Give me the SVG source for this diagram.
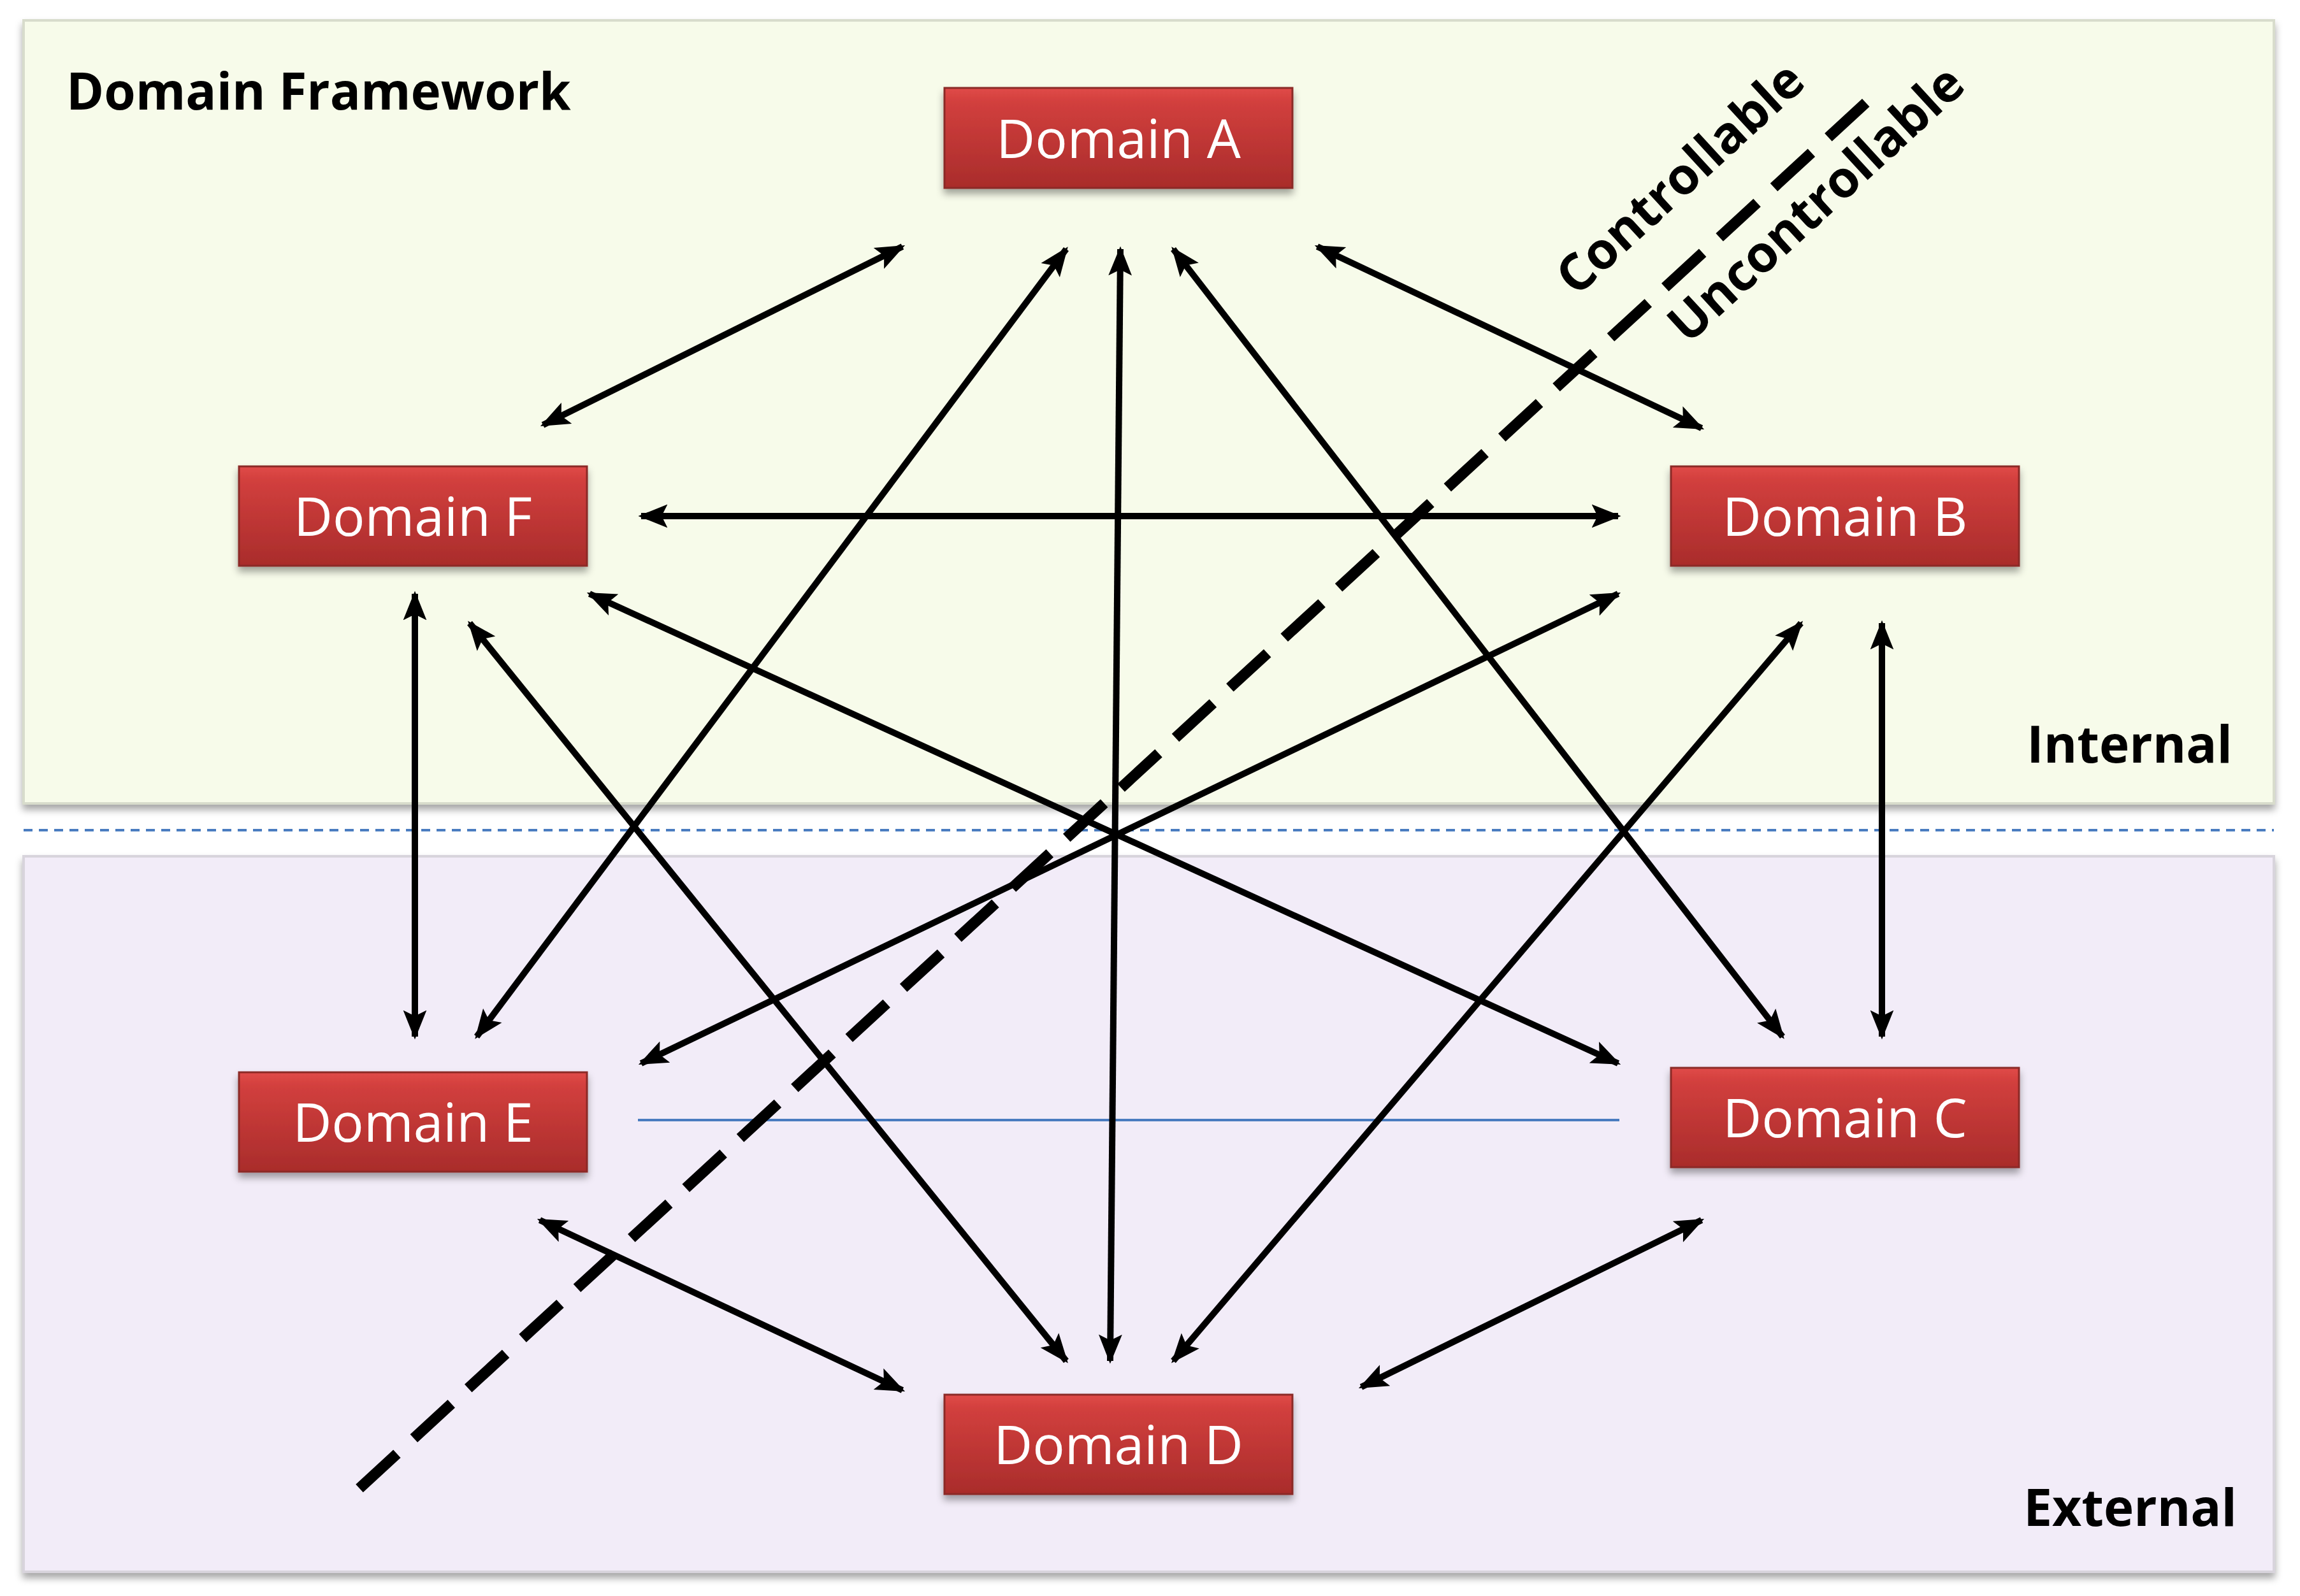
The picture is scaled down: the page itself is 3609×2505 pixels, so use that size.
<svg xmlns="http://www.w3.org/2000/svg" width="3609" height="2505" viewBox="0 0 3609 2505">
<defs>
<linearGradient id="red" x1="0" y1="0" x2="0" y2="1"><stop offset="0" stop-color="#e04a48"/><stop offset="0.15" stop-color="#d13f3d"/><stop offset="1" stop-color="#a92c2b"/></linearGradient>
<filter id="sh" x="-10%" y="-10%" width="120%" height="130%"><feDropShadow dx="0" dy="8" stdDeviation="6" flood-color="#000" flood-opacity="0.35"/></filter>
<marker id="ah" viewBox="0 0 10 8" refX="9" refY="4" markerWidth="4.6" markerHeight="3.8" orient="auto-start-reverse" markerUnits="strokeWidth"><path d="M0,0 L10,4 L0,8 L2,4 z" fill="#000"/></marker>
</defs>
<style>
.nt{font-family:"Open Sans","Liberation Sans",sans-serif;font-size:84px;fill:#fff;text-anchor:middle}
.lb{font-family:"Open Sans","Liberation Sans",sans-serif;font-weight:bold;font-size:80px;fill:#000}
.ar{stroke:#000;stroke-width:10;fill:none;marker-start:url(#ah);marker-end:url(#ah)}
.box{fill:url(#red);stroke:#8b2a28;stroke-width:3;filter:url(#sh)}
</style>
<rect width="3609" height="2505" fill="#fff"/>
<rect x="37" y="32" width="3531" height="1229" fill="#f7fbea" stroke="#d8dccc" stroke-width="4" filter="url(#sh)"/>
<rect x="37" y="1344" width="3531" height="1123" fill="#f2ecf8" stroke="#d8d4dc" stroke-width="4" filter="url(#sh)"/>
<line x1="37" y1="1303" x2="3568" y2="1303" stroke="#4a7cc0" stroke-width="4" stroke-dasharray="14,10"/>
<text class="lb" x="104" y="172">Domain Framework</text>
<text class="lb" x="3503" y="1197" text-anchor="end">Internal</text>
<text class="lb" x="3510" y="2395" text-anchor="end">External</text>
<text class="lb" x="2655" y="300" text-anchor="middle" transform="rotate(-42.6 2655 300)">Controllable</text>
<text class="lb" x="2868" y="340" text-anchor="middle" transform="rotate(-42.6 2868 340)">Uncontrollable</text>
<line x1="1001" y1="1758" x2="2541" y2="1758" stroke="#4a7cc0" stroke-width="4"/>
<line x1="564" y1="2336" x2="2953" y2="138" stroke="#000" stroke-width="17" stroke-dasharray="80,36"/>
<g id="connectors">
<line class="ar" x1="852" y1="667" x2="1416" y2="387"/>
<line class="ar" x1="1673" y1="391" x2="748" y2="1627"/>
<line class="ar" x1="1758" y1="391" x2="1742" y2="2136"/>
<line class="ar" x1="1841" y1="391" x2="2797" y2="1627"/>
<line class="ar" x1="2067" y1="387" x2="2670" y2="672"/>
<line class="ar" x1="1006" y1="810" x2="2539" y2="810"/>
<line class="ar" x1="651" y1="932" x2="651" y2="1627"/>
<line class="ar" x1="737" y1="978" x2="1673" y2="2136"/>
<line class="ar" x1="925" y1="932" x2="2539" y2="1669"/>
<line class="ar" x1="2539" y1="932" x2="1006" y2="1669"/>
<line class="ar" x1="2826" y1="978" x2="1841" y2="2136"/>
<line class="ar" x1="2953" y1="978" x2="2953" y2="1627"/>
<line class="ar" x1="847" y1="1915" x2="1416" y2="2182"/>
<line class="ar" x1="2136" y1="2177" x2="2670" y2="1915"/>
</g>
<g id="nodeA"><rect class="box" x="1482" y="138" width="546" height="157"/><text class="nt" x="1755" y="248">Domain A</text></g>
<g id="nodeB"><rect class="box" x="2622" y="732" width="546" height="156"/><text class="nt" x="2895" y="841">Domain B</text></g>
<g id="nodeC"><rect class="box" x="2622" y="1676" width="546" height="156"/><text class="nt" x="2895" y="1785">Domain C</text></g>
<g id="nodeD"><rect class="box" x="1482" y="2189" width="546" height="156"/><text class="nt" x="1755" y="2298">Domain D</text></g>
<g id="nodeE"><rect class="box" x="375" y="1683" width="546" height="156"/><text class="nt" x="648" y="1792">Domain E</text></g>
<g id="nodeF"><rect class="box" x="375" y="732" width="546" height="156"/><text class="nt" x="648" y="841">Domain F</text></g>
</svg>
